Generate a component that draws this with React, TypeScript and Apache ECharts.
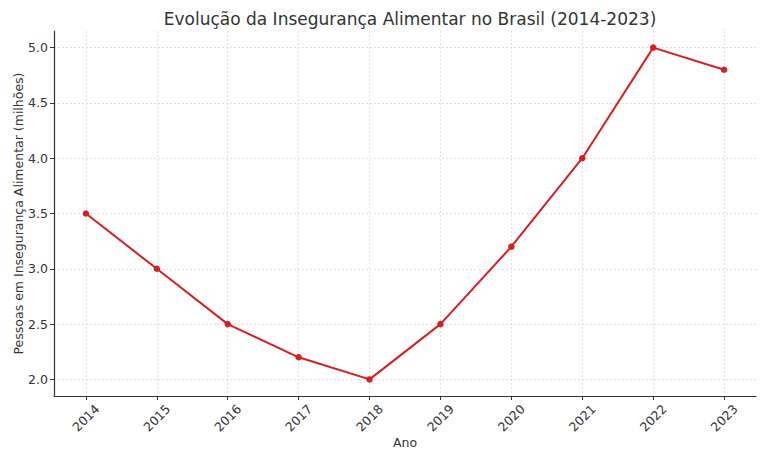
import React, { useEffect, useRef } from "react";
import * as echarts from "echarts";

const years = [2014, 2015, 2016, 2017, 2018, 2019, 2020, 2021, 2022, 2023];
const values = [3.5, 3.0, 2.5, 2.2, 2.0, 2.5, 3.2, 4.0, 5.0, 4.8];
const yTicks = [2.0, 2.5, 3.0, 3.5, 4.0, 4.5, 5.0];

const FONT = "DejaVu Sans";

export default function App() {
  const ref = useRef<HTMLDivElement>(null);
  useEffect(() => {
    if (!ref.current) return;
    const chart = echarts.init(ref.current, undefined, { renderer: "svg" });
    chart.setOption({
      animation: false,
      backgroundColor: "#ffffff",
      textStyle: { fontFamily: FONT },
      title: {
        text: "Evolução da Insegurança Alimentar no Brasil (2014-2023)",
        left: 405,
        textAlign: "center",
        top: 5,
        textStyle: { fontFamily: FONT, fontSize: 17, fontWeight: "normal", color: "#333" },
      },
      grid: { left: 54, right: 12, top: 31, bottom: 65, containLabel: false, outerBoundsMode: "none" },
      xAxis: {
        type: "value",
        min: 2013.55,
        max: 2023.45,
        name: "Ano",
        nameLocation: "middle",
        nameGap: 40,
        nameMoveOverlap: false,
        nameTextStyle: { fontFamily: FONT, fontSize: 12.5, color: "#333", verticalAlign: "top" },
        axisLine: { show: true, onZero: false, lineStyle: { color: "#333", width: 1.2 } },
        axisTick: { show: true, customValues: years, length: 4, lineStyle: { color: "#333" } },
        axisLabel: {
          customValues: years,
          rotate: 45,
          align: "center",
          verticalAlign: "middle",
          margin: 22,
          fontFamily: FONT,
          fontSize: 12.5,
          color: "#333",
          formatter: (v: number) => String(Math.round(v)),
        },
        splitLine: { show: true, lineStyle: { color: "#d9d9d9", type: [2, 2], width: 0.8 } },
      },
      yAxis: {
        type: "value",
        min: 1.85,
        max: 5.15,
        name: "Pessoas em Insegurança Alimentar (milhões)",
        nameLocation: "middle",
        nameGap: 29,
        nameMoveOverlap: false,
        nameTextStyle: { fontFamily: FONT, fontSize: 12.5, color: "#333" },
        axisLine: { show: true, lineStyle: { color: "#333", width: 1.2 } },
        axisTick: { show: true, customValues: yTicks, length: 4, lineStyle: { color: "#333" } },
        axisLabel: {
          customValues: yTicks,
          margin: 6,
          fontFamily: FONT,
          fontSize: 12.5,
          color: "#333",
          formatter: (v: number) => v.toFixed(1),
        },
        splitLine: { show: true, lineStyle: { color: "#d9d9d9", type: [2, 2], width: 0.8 } },
      },
      series: [
        {
          type: "line",
          data: years.map((y, i) => [y, values[i]]),
          symbol: "circle",
          symbolSize: 6.5,
          lineStyle: { color: "#d62020", width: 2 },
          itemStyle: { color: "#d62020" },
        },
      ],
    });
    return () => chart.dispose();
  }, []);
  return <div ref={ref} style={{ width: 768, height: 461, margin: -8 }} />;
}
